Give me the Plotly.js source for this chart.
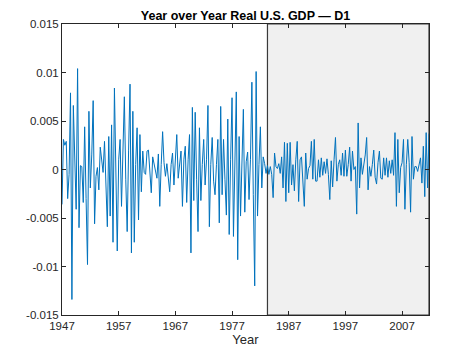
<!DOCTYPE html>
<html>
<head>
<meta charset="utf-8">
<script src="https://cdn.plot.ly/plotly-3.0.1.min.js"></script>
<style>html,body{margin:0;padding:0;background:#fff}#chart{width:474px;height:355px}</style>
</head>
<body>
<div id="chart"></div>
<script>
// Quarterly D1 detail values, first quarter = 1947
const startYear = 1947;
const stepYears = 0.25;
const d1Values = [
 -0.0036, 0.0031, 0.0025, 0.0029, -0.0030, -0.0005, 0.0079, -0.0134, 0.0066, 0.0005,
 -0.0041, 0.0104, -0.0060, 0.0004, 0.0003, -0.0034, 0.0044, -0.0030, -0.0098, 0.0060,
 -0.0019, 0.0015, 0.0071, -0.0056, -0.0007, 0.0002, -0.0021, 0.0023, 0.0008, -0.0003,
 0.0029, -0.0015, -0.0059, 0.0034, -0.0048, 0.0046, -0.0075, 0.0084, 0.0000, -0.0084,
 0.0010, 0.0031, -0.0038, 0.0015, 0.0075, -0.0010, -0.0064, 0.0020, 0.0088, -0.0086,
 0.0060, -0.0075, 0.0005, 0.0043, -0.0052, 0.0036, -0.0023, 0.0019, -0.0003, -0.0005,
 0.0019, 0.0020, 0.0002, -0.0024, 0.0013, 0.0005, 0.0001, -0.0009, 0.0016, -0.0038,
 0.0005, 0.0039, 0.0007, -0.0007, 0.0006, -0.0010, -0.0023, 0.0005, 0.0017, -0.0016,
 0.0010, 0.0036, -0.0009, 0.0005, 0.0019, -0.0038, 0.0010, 0.0024, -0.0034, 0.0010,
 0.0036, -0.0086, 0.0064, -0.0032, 0.0059, -0.0010, -0.0064, 0.0043, -0.0032, 0.0005,
 0.0031, -0.0016, 0.0010, 0.0066, -0.0059, 0.0005, 0.0033, -0.0012, -0.0026, 0.0005,
 0.0031, -0.0055, 0.0065, -0.0026, 0.0031, -0.0010, -0.0047, 0.0052, -0.0067, 0.0010,
 0.0074, -0.0069, 0.0015, 0.0080, -0.0093, 0.0034, -0.0048, 0.0008, 0.0062, -0.0044,
 0.0008, 0.0018, -0.0031, 0.0010, 0.0090, -0.0026, -0.0120, 0.0101, -0.0048, 0.0005,
 0.0044, -0.0019, 0.0013, 0.0006, -0.0004, 0.0004, -0.0005, 0.0003, -0.0005, -0.0029,
 0.0017, 0.0003, 0.0001, 0.0006, -0.0004, 0.0013, -0.0019, 0.0028, -0.0033, 0.0027,
 -0.0024, 0.0028, -0.0016, 0.0005, -0.0022, 0.0010, 0.0029, -0.0033, 0.0010, 0.0013,
 -0.0017, -0.0038, 0.0017, -0.0010, 0.0001, 0.0004, 0.0029, -0.0010, 0.0031, -0.0012,
 -0.0012, 0.0010, -0.0008, 0.0012, -0.0006, 0.0008, -0.0004, 0.0011, -0.0005, -0.0031,
 0.0009, -0.0018, 0.0010, 0.0033, -0.0012, 0.0005, 0.0010, -0.0006, 0.0017, -0.0007,
 0.0020, -0.0007, 0.0005, 0.0023, -0.0012, 0.0019, 0.0000, 0.0003, -0.0046, 0.0048,
 -0.0019, 0.0012, -0.0005, 0.0005, 0.0015, 0.0033, -0.0021, 0.0003, -0.0007, 0.0005,
 0.0020, -0.0008, -0.0015, 0.0007, 0.0019, -0.0009, -0.0010, 0.0012, -0.0006, 0.0012,
 -0.0008, 0.0009, -0.0004, 0.0010, -0.0006, 0.0038, -0.0038, 0.0031, -0.0024, 0.0002,
 0.0007, 0.0031, -0.0041, 0.0005, 0.0031, 0.0007, -0.0044, 0.0034, -0.0010, 0.0003,
 0.0003, -0.0002, 0.0005, 0.0012, -0.0014, 0.0024, -0.0028, 0.0038, -0.0019, 0.0037
];
const years = d1Values.map((v, i) => startYear + i * stepYears);

const xTickVals = [1947, 1957, 1967, 1977, 1987, 1997, 2007];
const xTickText = ['1947', '1957', '1967', '1977', '1987', '1997', '2007'];
const yTickVals = [-0.015, -0.01, -0.005, 0, 0.005, 0.01, 0.015];
const yTickText = ['-0.015', '-0.01', '-0.005', '0', '0.005', '0.01', '0.015'];
const shadeStart = 1983.25;

const axisColor = '#262626';
const trace = {
  x: years, y: d1Values, type: 'scatter', mode: 'lines',
  line: {color: '#0072BD', width: 1}, hoverinfo: 'skip'
};
const xEnd = years[years.length - 1];

const layout = {
  width: 474, height: 355,
  margin: {l: 62, r: 45, t: 24, b: 40},
  paper_bgcolor: '#ffffff', plot_bgcolor: '#ffffff',
  showlegend: false,
  font: {family: 'Liberation Sans, Arial, sans-serif', size: 11, color: axisColor},
  title: {
    text: '<b>Year over Year Real U.S. GDP — D1</b>',
    font: {family: 'Liberation Sans, Arial, sans-serif', size: 12.5, color: '#000000'},
    x: 0.5, xref: 'paper', xanchor: 'center',
    y: 1 - 16 / 355, yref: 'container', yanchor: 'middle'
  },
  xaxis: {
    range: [startYear, xEnd],
    tickvals: xTickVals, ticktext: xTickText,
    ticks: 'inside', ticklen: 4, tickwidth: 1, tickcolor: axisColor,
    showline: true, linecolor: axisColor, linewidth: 1, mirror: 'ticks',
    showgrid: false, zeroline: false,
    tickfont: {size: 11.5, color: axisColor},
    title: {text: 'Year', font: {size: 13, color: axisColor}, standoff: 2}
  },
  yaxis: {
    range: [-0.015, 0.015],
    tickvals: yTickVals, ticktext: yTickText,
    ticks: 'inside', ticklen: 4, tickwidth: 1, tickcolor: axisColor,
    showline: true, linecolor: axisColor, linewidth: 1, mirror: 'ticks',
    showgrid: false, zeroline: false,
    tickfont: {size: 11.5, color: axisColor}
  },
  shapes: [{
    type: 'rect', xref: 'x', yref: 'paper',
    x0: shadeStart, x1: xEnd, y0: 0, y1: 1,
    fillcolor: '#f0f0f0', line: {color: '#3a3a3a', width: 1.2}, layer: 'below'
  }]
};

Plotly.newPlot('chart', [trace], layout, {staticPlot: true, displayModeBar: false});
</script>
</body>
</html>
